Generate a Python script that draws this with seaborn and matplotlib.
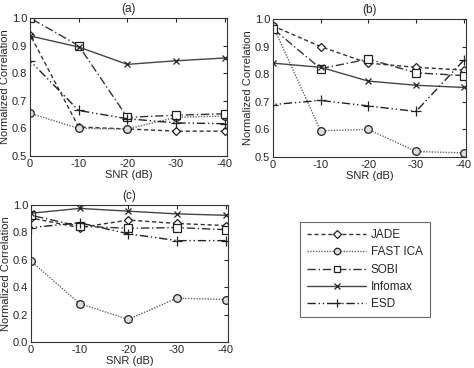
import numpy as np
import pandas as pd
import seaborn as sns
import matplotlib.pyplot as plt
from matplotlib.lines import Line2D

snr = [0, -10, -20, -30, -40]
methods = ['JADE', 'FAST ICA', 'SOBI', 'Infomax', 'ESD']

# panel (a)
a_jade = [0.94, 0.605, 0.598, 0.59, 0.59]
a_fast = [0.655, 0.60, 0.598, 0.64, 0.645]
a_sobi = [1.0, 0.90, 0.64, 0.648, 0.653]
a_info = [0.935, 0.895, 0.832, 0.845, 0.855]
a_esd = [0.845, 0.665, 0.635, 0.62, 0.617]

# panel (b)
b_jade = [0.975, 0.90, 0.84, 0.825, 0.815]
b_fast = [0.975, 0.595, 0.60, 0.52, 0.515]
b_sobi = [0.965, 0.82, 0.855, 0.805, 0.795]
b_info = [0.84, 0.825, 0.775, 0.76, 0.752]
b_esd = [0.69, 0.705, 0.685, 0.665, 0.85]

# panel (c)
c_jade = [0.905, 0.835, 0.89, 0.865, 0.85]
c_fast = [0.59, 0.28, 0.165, 0.32, 0.31]
c_sobi = [0.925, 0.845, 0.83, 0.835, 0.82]
c_info = [0.94, 0.975, 0.955, 0.935, 0.925]
c_esd = [0.835, 0.87, 0.79, 0.74, 0.74]

panels = {
    '(a)': [a_jade, a_fast, a_sobi, a_info, a_esd],
    '(b)': [b_jade, b_fast, b_sobi, b_info, b_esd],
    '(c)': [c_jade, c_fast, c_sobi, c_info, c_esd],
}

styles = {
    'JADE': dict(marker='D', ms=4.5, ls=(0, (3, 2))),
    'FAST ICA': dict(marker='o', ms=5.5, ls=(0, (1, 1))),
    'SOBI': dict(marker='s', ms=5.5, ls=(0, (6, 2, 1, 2))),
    'Infomax': dict(marker='x', ms=5, ls='-'),
    'ESD': dict(marker='+', ms=7, ls=(0, (6, 2, 1, 2, 1, 2))),
}
colors = {'JADE': '#333333', 'FAST ICA': '#666666', 'SOBI': '#333333',
          'Infomax': '#444444', 'ESD': '#222222'}

sns.set_style('white')
plt.rcParams['font.family'] = ['Liberation Sans', 'DejaVu Sans']
plt.rcParams['font.size'] = 8

fig = plt.figure(figsize=(4.74, 3.68), dpi=100)
W, H = 474, 368
boxes = {'(a)': (30, 18, 227, 156), '(b)': (273, 19, 466, 157), '(c)': (31, 205, 228, 342)}
ylims = {'(a)': (0.5, 1.0), '(b)': (0.5, 1.0), '(c)': (0.0, 1.0)}
yticks = {'(a)': np.arange(0.5, 1.01, 0.1), '(b)': np.arange(0.5, 1.01, 0.1),
          '(c)': np.arange(0.0, 1.01, 0.2)}

for name, series in panels.items():
    x0, y0, x1, y1 = boxes[name]
    ax = fig.add_axes([x0 / W, 1 - y1 / H, (x1 - x0) / W, (y1 - y0) / H])
    for m, vals in zip(methods, series):
        df = pd.DataFrame({'snr': snr, 'corr': vals})
        st = styles[m]
        sns.lineplot(data=df, x='snr', y='corr', ax=ax, color=colors[m],
                     linestyle=st['ls'], marker=st['marker'], markersize=st['ms'],
                     markerfacecolor='white' if m != 'FAST ICA' else '#dddddd',
                     markeredgecolor='#222222', markeredgewidth=0.9, linewidth=1.0)
    ax.set_xlim(0, -40.5)
    ax.set_ylim(*ylims[name])
    ax.set_xticks(snr)
    ax.set_xticklabels(['0', '-10', '-20', '-30', '-40'])
    ax.set_yticks(yticks[name])
    ax.set_yticklabels(['%.1f' % v for v in yticks[name]])
    ax.tick_params(direction='in', top=True, right=True, length=3, pad=2, labelsize=8)
    for s in ax.spines.values():
        s.set_color('#333333')
        s.set_linewidth(0.8)
    ax.set_xlabel('SNR (dB)', fontsize=8, labelpad=1)
    ax.set_ylabel('Normalized Correlation', fontsize=8, labelpad=1)
    ax.set_title(name, fontsize=8.5, pad=4)

handles = []
for m in methods:
    st = styles[m]
    handles.append(Line2D([], [], color=colors[m], linestyle=st['ls'], marker=st['marker'],
                          markersize=st['ms'] * 0.85,
                          markerfacecolor='white' if m != 'FAST ICA' else '#dddddd',
                          markeredgecolor='#222222', markeredgewidth=0.9, linewidth=1.0))
leg = fig.legend(handles, methods, loc='upper left',
                 bbox_to_anchor=(300 / W, 1 - 222 / H), borderaxespad=0, fontsize=8.5,
                 frameon=True, fancybox=False, handlelength=5.0, borderpad=0.6,
                 labelspacing=0.45, handletextpad=0.4)
leg.get_frame().set_edgecolor('#444444')
leg.get_frame().set_linewidth(0.8)

fig.savefig('out.png', dpi=100)
